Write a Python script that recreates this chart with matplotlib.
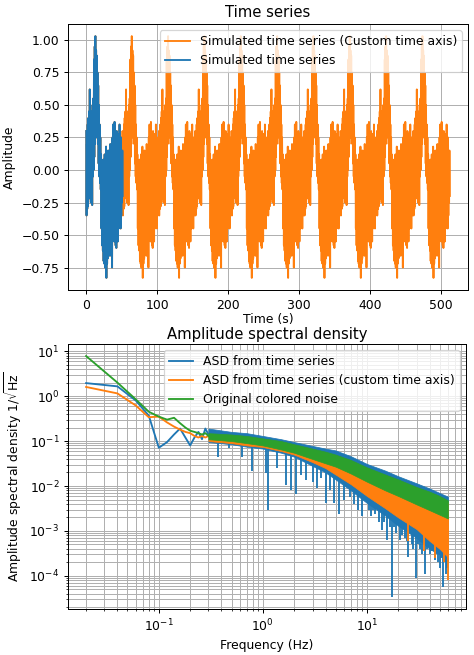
import numpy as np
import matplotlib
matplotlib.use("Agg")
import matplotlib.pyplot as plt
from matplotlib.ticker import MultipleLocator

DPI = 89  # reference was rendered at a reduced dpi

# --- time series: envelope of one 51.2 s record ---
t_sec = np.arange(0, 52)
sig_top = [0.30, 0.20, 0.35, 0.40, 0.45, 0.62, 0.35, 0.45, 0.40, 0.50,
           0.55, 0.85, 0.95, 1.03, 0.92, 0.88, 0.75, 0.65, 0.50, 0.35,
           0.25, 0.12, 0.05, 0.02, 0.08, 0.00, 0.12, 0.05, 0.18, 0.10,
           0.05, 0.15, 0.10, 0.00, 0.20, 0.12, 0.15, 0.25, 0.35, 0.28,
           0.37, 0.20, 0.22, 0.30, 0.28, 0.20, 0.25, 0.35, 0.22, 0.25,
           0.10, 0.15]
sig_bot = [-0.35, -0.30, -0.28, -0.20, -0.15, -0.22, -0.25, -0.15, -0.27, -0.05,
           0.00, 0.10, 0.20, 0.30, 0.25, 0.30, 0.20, 0.05, -0.05, -0.10,
           -0.15, -0.45, -0.58, -0.62, -0.70, -0.72, -0.75, -0.70, -0.83, -0.72,
           -0.68, -0.62, -0.58, -0.66, -0.60, -0.55, -0.75, -0.50, -0.48, -0.55,
           -0.52, -0.58, -0.60, -0.50, -0.55, -0.45, -0.40, -0.42, -0.45, -0.35,
           -0.25, -0.20]
record_len = 51.2
n_repeats = 10  # custom time axis: same record repeated

# --- ASD, low-frequency bins (individually read) ---
f_low = [0.02, 0.04, 0.06, 0.08, 0.10, 0.12, 0.14, 0.16, 0.18, 0.20,
         0.22, 0.24, 0.26, 0.28, 0.30]
asd_blue_low = [1.95, 1.65, 0.80, 0.37, 0.071, 0.095, 0.14, 0.19, 0.12, 0.08,
                0.12, 0.16, 0.11, 0.19, 0.14]
asd_orange_low = [1.60, 1.15, 0.62, 0.34, 0.35, 0.26, 0.21, 0.18, 0.16, 0.15,
                  0.13, 0.12, 0.13, 0.12, 0.13]
asd_green_low = [7.8, 2.0, 0.85, 0.45, 0.35, 0.30, 0.33, 0.25, 0.20, 0.17,
                 0.16, 0.15, 0.14, 0.15, 0.13]

# --- ASD, dense part: band envelopes ---
f_band = [0.3, 0.5, 0.7, 1.0, 1.5, 2, 3, 4, 5, 7, 10, 15, 20, 30, 40, 50, 60]
blue_hi = [0.19, 0.16, 0.15, 0.13, 0.11, 0.095, 0.078, 0.068, 0.062, 0.046,
           0.031, 0.022, 0.0165, 0.0115, 0.0088, 0.0070, 0.0058]
blue_lo = [0.095, 0.085, 0.075, 0.068, 0.055, 0.045, 0.028, 0.020, 0.014, 0.008,
           0.0042, 0.0022, 0.0013, 0.0007, 0.0004, 0.0003, 0.0002]
orange_hi = [0.14, 0.13, 0.12, 0.105, 0.090, 0.078, 0.062, 0.052, 0.045, 0.034,
             0.024, 0.016, 0.012, 0.0085, 0.0067, 0.0054, 0.0043]
orange_lo = [0.10, 0.09, 0.08, 0.074, 0.060, 0.050, 0.034, 0.025, 0.018, 0.011,
             0.0060, 0.0032, 0.0020, 0.0011, 0.0006, 0.0004, 0.00026]
green_hi = [0.15, 0.14, 0.13, 0.115, 0.10, 0.085, 0.068, 0.058, 0.050, 0.038,
            0.026, 0.018, 0.0140, 0.0095, 0.0075, 0.0060, 0.0048]
green_lo = [0.11, 0.10, 0.09, 0.08, 0.065, 0.055, 0.040, 0.032, 0.027, 0.019,
            0.0125, 0.0080, 0.0060, 0.0039, 0.0029, 0.0023, 0.0019]

# downward spikes (frequency, bottom, top)
blue_spike_f = [0.37, 0.47, 0.63, 0.78, 1.08, 1.13, 1.38, 1.67, 1.86, 2.09,
                2.35, 2.6, 3.0, 3.3, 3.6, 4.0, 4.4, 4.8, 5.4, 6.0,
                6.8, 7.5, 8.2, 9.0, 10.5, 11.0, 11.5, 12.0, 13.0, 13.9,
                14.5, 15.5, 16.5, 17.6, 18.2, 19.0, 20.8, 21.5, 22.3, 23,
                24, 25, 26, 27, 28, 29.3, 31, 32, 33.5, 36,
                38, 40, 42, 44.8, 46.5, 48, 50, 52, 53.7, 56,
                57.8, 59]
blue_spike_lo = [0.044, 0.07, 0.045, 0.022, 0.019, 0.0029, 0.025, 0.0104, 0.008, 0.0068,
                 0.018, 0.0134, 0.012, 0.009, 0.015, 0.0041, 0.008, 0.0041, 0.0024, 0.0048,
                 0.0057, 0.004, 0.003, 0.0021, 0.003, 0.0022, 0.003, 0.0024, 0.0016, 0.00104,
                 0.0016, 0.00062, 0.0012, 3.4e-5, 0.0012, 0.0009, 0.00062, 0.0008, 0.0011, 0.0007,
                 0.0006, 0.000265, 0.0009, 0.0005, 0.0004, 9e-5, 0.0005, 0.0004, 0.0003, 0.000113,
                 0.0004, 0.0003, 0.00035, 0.00023, 0.0003, 0.0002, 0.00015, 0.00025, 5.7e-5, 0.0002,
                 0.000113, 0.00015]
blue_spike_hi = [0.12, 0.12, 0.11, 0.09, 0.08, 0.08, 0.07, 0.06, 0.05, 0.05,
                 0.05, 0.045, 0.04, 0.035, 0.035, 0.03, 0.03, 0.025, 0.02, 0.02,
                 0.015, 0.015, 0.012, 0.01, 0.008, 0.008, 0.007, 0.007, 0.006, 0.006,
                 0.005, 0.005, 0.004, 0.004, 0.004, 0.004, 0.003, 0.003, 0.003, 0.003,
                 0.0025, 0.002, 0.002, 0.002, 0.002, 0.002, 0.0015, 0.0015, 0.0012, 0.0012,
                 0.001, 0.001, 0.001, 0.001, 0.0009, 0.0008, 0.0008, 0.0008, 0.0008, 0.0006,
                 0.0006, 0.0006]
orange_spike_f = [25, 35, 45, 55, 60]
orange_spike_lo = [0.0006, 0.00035, 0.00025, 0.0002, 8e-5]
orange_spike_hi = [0.003, 0.002, 0.002, 0.002, 0.003]

C_BLUE, C_ORANGE, C_GREEN = "#1f77b4", "#ff7f0e", "#2ca02c"

fig = plt.figure(figsize=(474 / DPI, 655 / DPI), dpi=DPI)
ax1 = fig.add_axes([68 / 474, 1 - 290 / 655, 400 / 474, 266 / 655])
ax2 = fig.add_axes([68 / 474, 1 - 609 / 655, 398 / 474, 265 / 655])

# zig-zag through the envelope so it draws like a dense signal
t_zig = np.column_stack([t_sec, t_sec + 0.5]).ravel()
y_zig = np.column_stack([sig_top, sig_bot]).ravel()
t_custom = np.concatenate([t_zig + k * record_len for k in range(n_repeats)])
y_custom = np.tile(y_zig, n_repeats)

ax1.plot(t_custom, y_custom, color=C_ORANGE,
         label="Simulated time series (Custom time axis)")
ax1.plot(t_zig, y_zig, color=C_BLUE, label="Simulated time series")
ax1.yaxis.set_major_locator(MultipleLocator(0.25))
ax1.grid(True)
ax1.legend(loc="upper right")
ax1.set_title("Time series")
ax1.set_xlabel("Time (s)", labelpad=1)
ax1.set_ylabel("Amplitude")

series = [
    (C_BLUE, "ASD from time series", asd_blue_low, blue_lo, blue_hi,
     blue_spike_f, blue_spike_lo, blue_spike_hi, 2.0),
    (C_ORANGE, "ASD from time series (custom time axis)", asd_orange_low,
     orange_lo, orange_hi, orange_spike_f, orange_spike_lo, orange_spike_hi, 2.1),
    (C_GREEN, "Original colored noise", asd_green_low, green_lo, green_hi,
     [], [], [], 2.2),
]
for col, lab, low, lo, hi, sf, slo, shi, z in series:
    ax2.plot(f_low, low, color=col, label=lab, zorder=z)
    ax2.fill_between(f_band, lo, hi, color=col, lw=0.6, zorder=z)
    if sf:
        ax2.vlines(sf, slo, shi, color=col, lw=1.5, zorder=z)

ax2.set_xscale("log")
ax2.set_yscale("log")
ax2.grid(True, which="both")
ax2.legend(loc="upper right")
ax2.set_title("Amplitude spectral density", pad=4)
ax2.set_xlabel("Frequency (Hz)")
ax2.set_ylabel(r"Amplitude spectral density $1/\sqrt{\mathrm{Hz}}$")

fig.savefig("out.png", dpi=DPI)
